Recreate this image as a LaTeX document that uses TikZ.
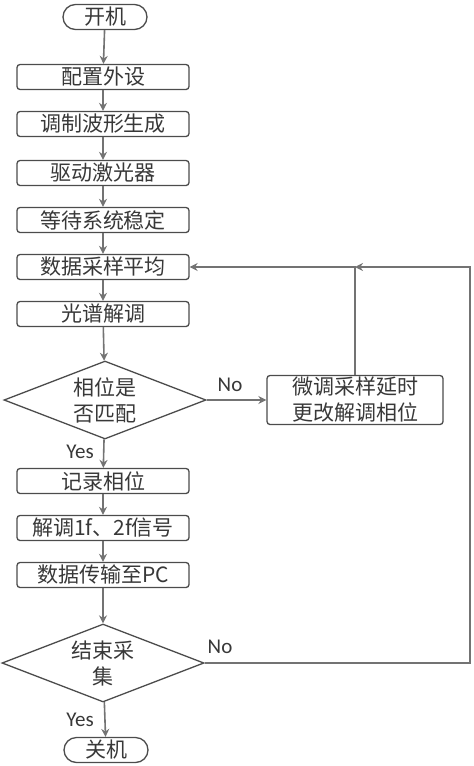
\documentclass[tikz,border=0pt]{standalone}
\usepackage{fontspec}
\setmainfont{Noto Sans CJK SC}
\newfontfamily\latin{Carlito}
\usetikzlibrary{shapes.geometric,shapes.misc,arrows.meta}
\definecolor{trait}{gray}{0.45}
\definecolor{bord}{gray}{0.3}
\definecolor{texte}{gray}{0.22}

\begin{document}
\begin{tikzpicture}[x=1pt,y=-1pt,font=\fontsize{21}{26}\selectfont]
		\tikzstyle{brique}=[minimum width=172pt, minimum height=25pt, draw=bord, line width=1.3pt, rounded corners=3pt, text=texte, inner sep=0pt]
		\tikzstyle{bout}=[rounded rectangle, minimum width=84pt, minimum height=25pt, draw=bord, line width=1.3pt, text=texte, inner sep=0pt]
		\tikzstyle{losange}=[diamond, aspect=2.6, minimum width=202pt, minimum height=78pt, draw=bord, line width=1.3pt, text=texte, inner sep=0pt, align=center]
		\tikzstyle{fleche}=[draw=trait, line width=1.6pt, -{Stealth[length=8pt,width=8pt]}]
		\tikzstyle{etiq}=[font=\latin\fontsize{21}{24}\selectfont, text=texte, inner sep=0pt]
		\useasboundingbox (0,0) rectangle (474,766);
		\node[bout] (debut) at (105,17) {开机};
		\node[brique] (conf) at (103,77) {配置外设};
		\node[brique] (onde) at (103,124) {调制波形生成};
		\node[brique] (laser) at (103,173) {驱动激光器};
		\node[brique] (attente) at (103,220) {等待系统稳定};
		\node[brique] (echant) at (103,267) {数据采样平均};
		\node[brique] (spectre) at (103,314) {光谱解调};
		\node[losange] (phase) at (105,400) {相位是\\否匹配};
		\node[brique, minimum width=176pt, minimum height=49pt, align=center] (reglage) at (355,400) {微调采样延时\\更改解调相位};
		\node[brique] (releve) at (103,481) {记录相位};
		\node[brique] (demod) at (103,528) {解调1f、2f信号};
		\node[brique] (envoi) at (103,575) {数据传输至PC};
		\node[losange] (fin) at (103,663) {结束采\\集};
		\node[bout] (arret) at (106,750) {关机};
		\coordinate (jonction) at (355,267); % retour
		\coordinate (coin) at (470,663);
		\foreach \a/\b in {debut/conf,conf/onde,onde/laser,laser/attente,attente/echant,echant/spectre,spectre/phase,phase/releve,releve/demod,demod/envoi,envoi/fin,fin/arret}
			\draw[fleche] (\a) -- (\b);
		\draw[fleche] (phase) -- (reglage);
		\draw[fleche] (reglage.north) -- (jonction) -- (echant.east);
		\draw[fleche] (fin.east) -- (coin) |- (jonction);
		\node[etiq] (non1) at (230,385) {No};
		\node[etiq] (oui1) at (80,452) {Yes};
		\node[etiq] (non2) at (220,647) {No};
		\node[etiq] (oui2) at (80,720) {Yes};
	\end{tikzpicture}
\end{document}
